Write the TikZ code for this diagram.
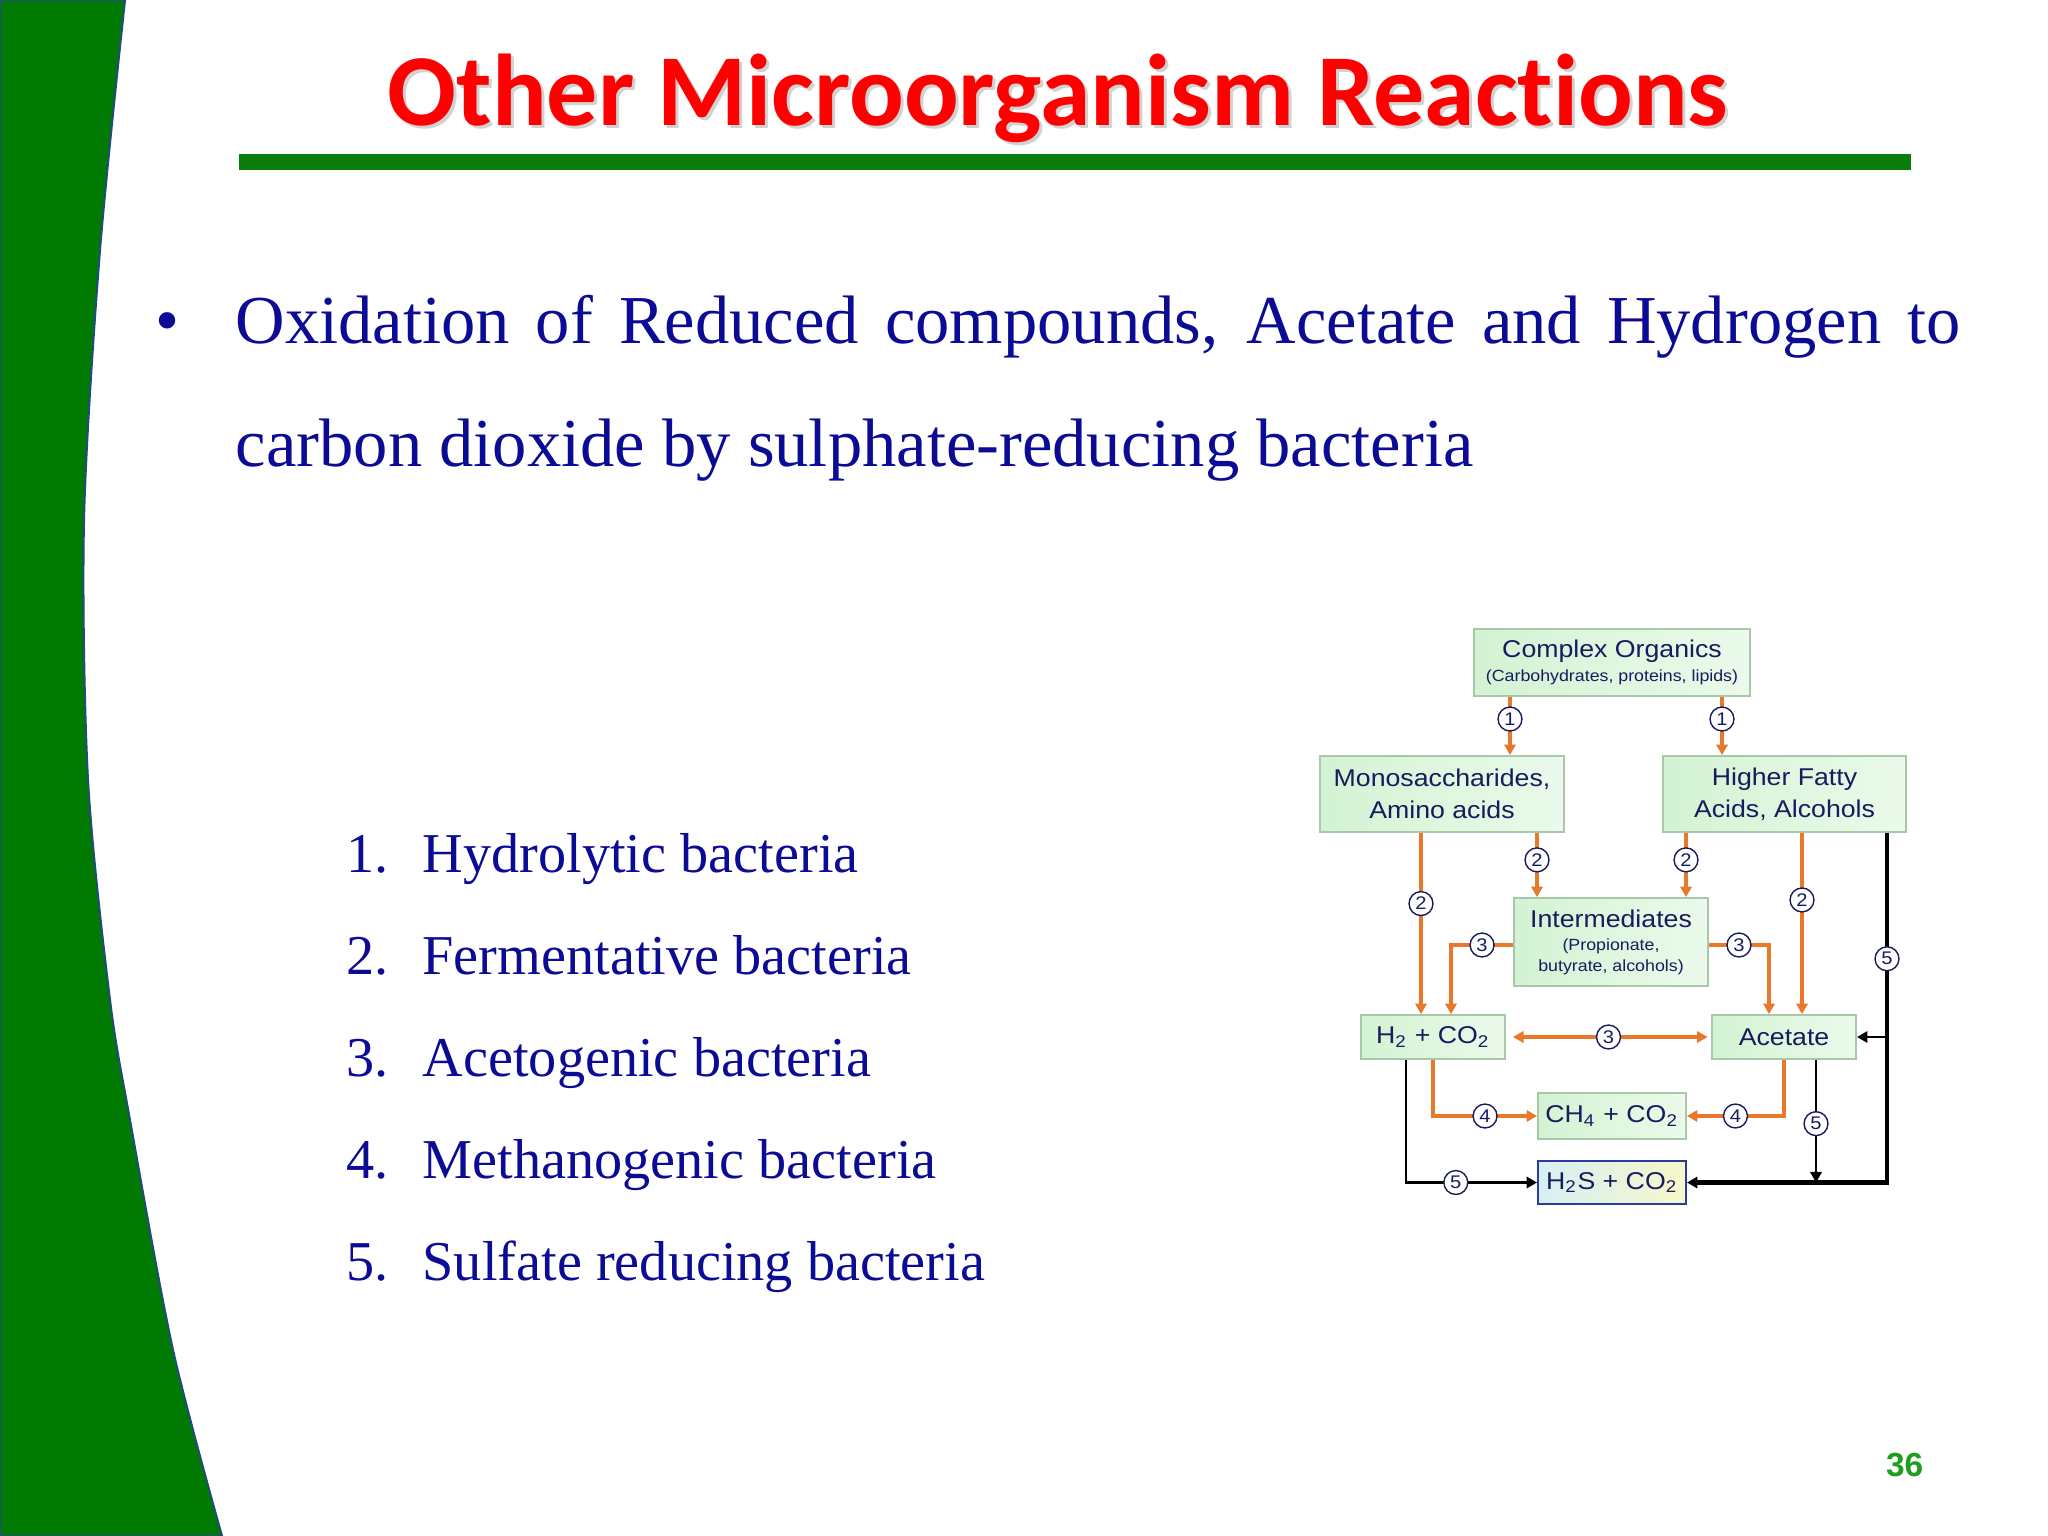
\documentclass[tikz,border=0pt]{standalone}
\usepackage{fontspec}
\setmainfont{Liberation Serif}
\newfontfamily\diagfont[FakeStretch=1.1]{Liberation Sans}
\newfontfamily\headfont[Ligatures=NoCommon]{Carlito}
\newfontfamily\pagefont{Liberation Sans}
\usetikzlibrary{arrows.meta,positioning,calc}
\definecolor{sidegreen}{HTML}{007A00}
\definecolor{sideedge}{HTML}{1F4E79}
\definecolor{rulegreen}{HTML}{0A7D0A}
\definecolor{titlered}{HTML}{FF0000}
\definecolor{shadowgray}{HTML}{D2D2D2}
\definecolor{bodyblue}{HTML}{0B0B96}
\definecolor{diagtext}{HTML}{1A1A5E}
\definecolor{feedorange}{HTML}{E8782A}
\definecolor{boxedge}{HTML}{A9C8A9}
\definecolor{boxleft}{HTML}{D3F3D3}
\definecolor{boxright}{HTML}{EBFAEB}
\definecolor{sulfedge}{HTML}{2B3C9A}
\definecolor{sulfleft}{HTML}{D6F0F5}
\definecolor{sulfright}{HTML}{F7F7C8}
\definecolor{pagegreen}{HTML}{1E9E1E}
\newcommand\smallnote[1]{{\fontsize{4.6}{5.5}\selectfont #1}}

\tikzset{
  stage/.style={draw=boxedge, line width=0.5pt, left color=boxleft, right color=boxright,
    inner sep=0pt, align=center, text=diagtext, font=\diagfont\fontsize{6.9}{9}\selectfont},
  tag/.style={circle, draw=diagtext, fill=white, line width=0.4pt, inner sep=0pt,
    minimum size=6.8pt, text=diagtext, font=\diagfont\fontsize{5.2}{5.2}\selectfont},
  feed/.style={draw=feedorange, line width=1pt, -{Triangle[length=3pt,width=3.2pt]}},
  sulfide/.style={draw=black, line width=0.75pt, -{Triangle[length=3pt,width=3.2pt]}},
}

\begin{document}
\begin{tikzpicture}[x=0.01cm, y=-0.01cm]
\useasboundingbox (0,0) rectangle (2048,1536);
\fill[white] (0,0) rectangle (2048,1536);

% side band
\fill[sidegreen, draw=sideedge, line width=0.6pt] (0,0) -- plot[smooth] coordinates {(125,0) (100,250) (84,520) (88,780) (110,1000) (130,1120) (173,1350) (222,1536)} -- (0,1536) -- cycle;

% heading
\node[anchor=base, text=shadowgray, font=\headfont\bfseries\fontsize{29}{35}\selectfont] (titleshadow) at (1061,128) {Other Microorganism Reactions};
\node[anchor=base, text=titlered, font=\headfont\bfseries\fontsize{29}{35}\selectfont] (title) at (1058,125) {Other Microorganism Reactions};
\fill[rulegreen] (239,154) rectangle (1911,170);

% bullet text
\node[anchor=base, inner sep=0pt, text=bodyblue, font=\fontsize{19.5}{35}\selectfont] (bullet) at (168,343) {\textbullet};
\node[anchor=base west, inner sep=0pt, text=bodyblue, font=\fontsize{19.5}{35}\selectfont] (line1) at (235,343) {\makebox[17.24cm][s]{Oxidation of Reduced compounds, Acetate and Hydrogen to}};
\node[anchor=base west, inner sep=0pt, text=bodyblue, font=\fontsize{19.5}{35}\selectfont] (line2) at (235,466) {carbon dioxide by sulphate-reducing bacteria};

% list of bacteria
\foreach \txt [count=\i] in {Hydrolytic bacteria, Fermentative bacteria, Acetogenic bacteria, Methanogenic bacteria, Sulfate reducing bacteria} {
  \node[anchor=base west, inner sep=0pt, text=bodyblue, font=\fontsize{16}{20}\selectfont] (num\i) at (346,{872+102*(\i-1)}) {\i.};
  \node[anchor=base west, inner sep=0pt, text=bodyblue, font=\fontsize{16}{20}\selectfont] (item\i) at (422,{872+102*(\i-1)}) {\txt};
}

% diagram boxes
\node[stage, minimum width=2.76cm, minimum height=0.67cm] (org) at (1612,662.5) {Complex Organics\\[-2.2pt]\smallnote{(Carbohydrates, proteins, lipids)}};
\node[stage, minimum width=2.44cm, minimum height=0.76cm] (mono) at (1442,794) {Monosaccharides,\\Amino acids};
\node[stage, minimum width=2.43cm, minimum height=0.76cm] (fatty) at (1784.5,794) {Higher Fatty\\Acids, Alcohols};
\node[stage, minimum width=1.94cm, minimum height=0.88cm] (inter) at (1611,942) {Intermediates\\[-2.5pt]\smallnote{(Propionate,}\\[-3pt]\smallnote{butyrate, alcohols)}};
\node[stage, minimum width=1.44cm, minimum height=0.44cm] (htwo) at (1433,1037) {H\textsubscript{2} + CO\textsubscript{2}};
\node[stage, minimum width=1.44cm, minimum height=0.44cm] (acet) at (1784,1037) {Acetate};
\node[stage, minimum width=1.48cm, minimum height=0.46cm] (meth) at (1612,1116) {CH\textsubscript{4} + CO\textsubscript{2}};
\node[stage, draw=sulfedge, left color=sulfleft, right color=sulfright, minimum width=1.48cm, minimum height=0.43cm] (sulf) at (1612,1182.5) {H\textsubscript{2}S + CO\textsubscript{2}};

% columns of the connectors
\coordinate (c1l) at (1510,0);
\coordinate (c1r) at (1722,0);
\coordinate (c2l) at (1537,0);
\coordinate (c2r) at (1686,0);
\coordinate (c2ll) at (1421,0);
\coordinate (c2rr) at (1802,0);
\coordinate (c3l) at (1451,0);
\coordinate (c3r) at (1769,0);
\coordinate (c3y) at (0,945);
\coordinate (c5l) at (1406,0);
\coordinate (c5m) at (1816,0);
\coordinate (c5r) at (1887,0);

% hydrolysis and fermentation
\draw[feed] (org.south -| c1l) -- node[tag, pos=0.38]{1} (mono.north -| c1l);
\draw[feed] (org.south -| c1r) -- node[tag, pos=0.38]{1} (fatty.north -| c1r);
\draw[feed] (mono.south -| c2l) -- node[tag, pos=0.42]{2} (inter.north -| c2l);
\draw[feed] (fatty.south -| c2r) -- node[tag, pos=0.42]{2} (inter.north -| c2r);
\draw[feed] (mono.south -| c2ll) -- node[tag, pos=0.39]{2} (htwo.north -| c2ll);
\draw[feed] (fatty.south -| c2rr) -- node[tag, pos=0.37]{2} (acet.north -| c2rr);

% acetogenesis
\draw[feed] (inter.west |- c3y) -- node[tag]{3} (c3l |- c3y) -- (htwo.north -| c3l);
\draw[feed] (inter.east |- c3y) -- node[tag]{3} (c3r |- c3y) -- (acet.north -| c3r);
\draw[feed, {Triangle[length=3pt,width=3.2pt]}-{Triangle[length=3pt,width=3.2pt]}, shorten <=2pt, shorten >=1pt] (htwo.east) -- node[tag]{3} (acet.west);

% methanogenesis
\draw[feed] (htwo.south) |- node[tag, pos=0.75]{4} (meth.west);
\draw[feed] (acet.south) |- node[tag, pos=0.75]{4} (meth.east);

% sulfate reduction
\draw[sulfide] (htwo.south -| c5l) |- node[tag, pos=0.69]{5} (sulf.west);
\draw[sulfide] (acet.south -| c5m) -- node[tag, pos=0.52]{5} (sulf.east -| c5m);
\draw[sulfide, line width=1.2pt] (fatty.south -| c5r) -- node[tag, line width=0.4pt, pos=0.36]{5} (sulf.east -| c5r) -- (sulf.east);
\draw[sulfide] (acet.east -| c5r) -- (acet.east);

% page number
\node[anchor=base east, inner sep=0pt, text=pagegreen, font=\pagefont\bfseries\fontsize{9.5}{10}\selectfont] (pagenum) at (1924,1476) {36};
\end{tikzpicture}
\end{document}
